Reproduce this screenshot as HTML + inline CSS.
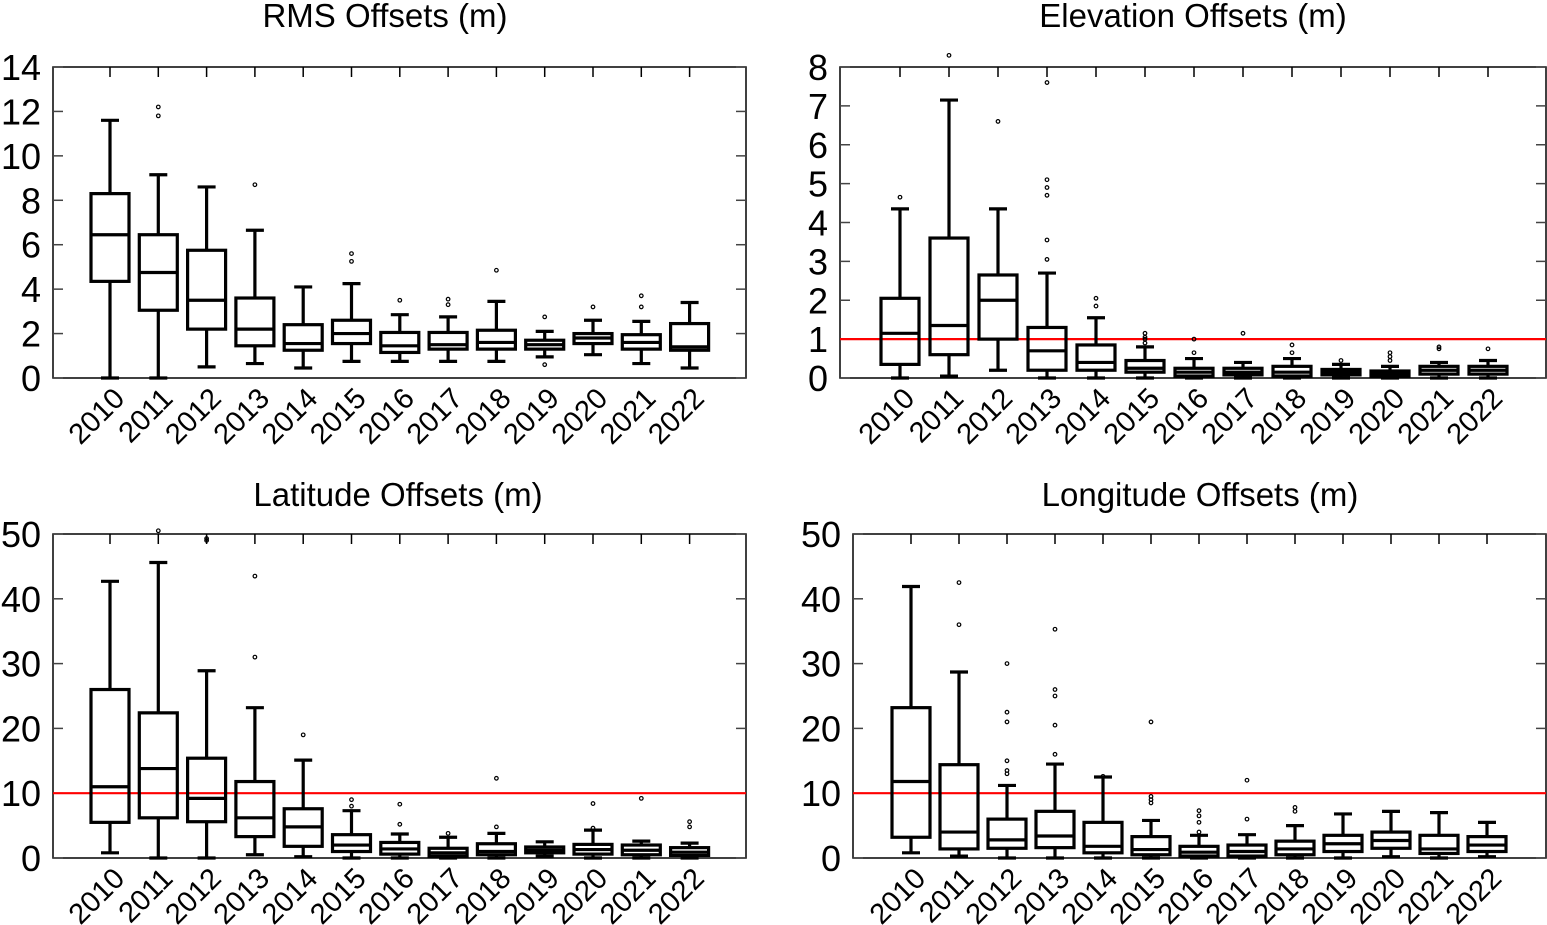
<!DOCTYPE html>
<html><head><meta charset="utf-8"><style>
body{margin:0;background:#fff;}
svg{display:block;font-family:"Liberation Sans",Arial,sans-serif;}
</style></head><body>
<svg id="s" width="1547" height="925" viewBox="0 0 1547 925" xmlns="http://www.w3.org/2000/svg"></svg>
<script>
const panels=[
{title:"RMS Offsets (m)",L:53,R:746,T:67,B:378,max:14,step:2,x0:110,dx:48.3,tx:385,ty:27,red:null,
data:[[4.35,6.45,8.3,0,11.6,[]],[3.05,4.75,6.45,0,9.15,[11.8,12.2]],[2.2,3.5,5.75,0.5,8.6,[]],[1.45,2.2,3.6,0.65,6.65,[8.7]],[1.25,1.55,2.4,0.45,4.1,[]],[1.55,2.0,2.6,0.75,4.25,[5.25,5.6]],[1.15,1.45,2.05,0.75,2.85,[3.5]],[1.3,1.5,2.05,0.75,2.75,[3.3,3.55]],[1.3,1.6,2.15,0.75,3.45,[4.85]],[1.3,1.5,1.7,0.95,2.1,[0.6,2.75]],[1.55,1.8,2.0,1.05,2.6,[3.2]],[1.3,1.6,1.95,0.65,2.55,[3.2,3.7]],[1.25,1.4,2.45,0.45,3.4,[]]]},
{title:"Elevation Offsets (m)",L:840,R:1546,T:67,B:378,max:8,step:1,x0:900,dx:49,tx:1193,ty:27,red:1,
data:[[0.35,1.15,2.05,0,4.35,[4.65]],[0.6,1.35,3.6,0.05,7.15,[8.3]],[1.0,2.0,2.65,0.2,4.35,[6.6]],[0.2,0.7,1.3,0,2.7,[3.05,3.55,4.7,4.9,5.1,7.6]],[0.2,0.4,0.85,0,1.55,[1.85,2.05]],[0.15,0.25,0.45,0,0.8,[0.9,1.0,1.05,1.15]],[0.05,0.15,0.25,0,0.5,[0.65,1.0]],[0.08,0.15,0.25,0,0.4,[1.15]],[0.05,0.15,0.3,0,0.5,[0.65,0.85]],[0.08,0.15,0.22,0,0.35,[0.45]],[0.03,0.1,0.18,0,0.3,[0.45,0.55,0.65]],[0.1,0.2,0.3,0,0.4,[0.75,0.8]],[0.1,0.2,0.3,0,0.45,[0.75]]]},
{title:"Latitude Offsets (m)",L:53,R:746,T:534,B:858,max:50,step:10,x0:110,dx:48.3,tx:398,ty:506,red:10,
data:[[5.5,11,26,0.8,42.7,[]],[6.2,13.8,22.4,0,45.6,[50.5]],[5.6,9.2,15.4,0,28.9,[49,49.3]],[3.3,6.2,11.8,0.5,23.2,[31,43.5]],[1.8,4.8,7.6,0.2,15.1,[19]],[1.0,2.0,3.6,0,7.3,[8,9]],[0.6,1.4,2.4,0,3.7,[5.2,8.3]],[0.3,0.8,1.5,0,3.2,[3.8]],[0.5,1.0,2.2,0,3.8,[4.8,12.3]],[0.8,1.2,1.7,0.3,2.5,[]],[0.6,1.3,2.1,0,4.3,[4.6,8.4]],[0.5,1.2,2.0,0,2.6,[9.2]],[0.4,0.9,1.6,0,2.3,[4.8,5.6]]]},
{title:"Longitude Offsets (m)",L:853,R:1546,T:534,B:858,max:50,step:10,x0:911,dx:48,tx:1200,ty:506,red:10,
data:[[3.2,11.8,23.2,0.8,41.9,[]],[1.4,4,14.4,0.3,28.7,[36,42.5]],[1.5,2.8,6.0,0,11.2,[13,13.5,15,21,22.5,30]],[1.6,3.4,7.2,0,14.5,[16,20.5,25,26,35.3]],[0.8,1.8,5.5,0,12.5,[12.6]],[0.5,1.3,3.3,0,5.8,[8.5,9,9.5,21]],[0.3,0.9,1.8,0,3.5,[4,5.5,6.5,7.3]],[0.3,1.0,2.0,0,3.6,[6,12]],[0.5,1.4,2.6,0,5.0,[7.2,7.8]],[1.0,2.2,3.5,0,6.8,[]],[1.5,2.7,4.0,0.2,7.2,[]],[0.7,1.4,3.5,0,7.0,[]],[1.0,2.0,3.3,0.2,5.5,[]]]}
];
let h="";
for(const p of panels){
 const Y=v=>p.B-(v/p.max)*(p.B-p.T);
 h+=`<text x="${p.tx}" y="${p.ty}" font-size="33" text-anchor="middle">${p.title}</text>`;
 h+=`<rect x="${p.L}" y="${p.T}" width="${p.R-p.L}" height="${p.B-p.T}" fill="none" stroke="#000" stroke-width="1.5"/>`;
 for(let v=0;v<=p.max+1e-9;v+=p.step){const y=Y(v);
  h+=`<line x1="${p.L}" x2="${p.L+10}" y1="${y}" y2="${y}" stroke="#444" stroke-width="1.5"/>`;
  h+=`<line x1="${p.R-10}" x2="${p.R}" y1="${y}" y2="${y}" stroke="#444" stroke-width="1.5"/>`;
  h+=`<text x="${p.L-12}" y="${y+13}" font-size="36" text-anchor="end">${v}</text>`;}
 if(p.red!==null){h+=`<line x1="${p.L}" x2="${p.R}" y1="${Y(p.red)}" y2="${Y(p.red)}" stroke="#f00" stroke-width="2.2"/>`;}
 p.data.forEach((d,i)=>{const x=p.x0+i*p.dx;const [q1,m,q3,lo,hi,out]=d;
  h+=`<line x1="${x}" x2="${x}" y1="${p.T}" y2="${p.T+10}" stroke="#000" stroke-width="1.5"/>`;
  h+=`<line x1="${x}" x2="${x}" y1="${Y(hi)}" y2="${Y(q3)}" stroke="#000" stroke-width="3.2"/>`;
  h+=`<line x1="${x}" x2="${x}" y1="${Y(q1)}" y2="${Y(lo)}" stroke="#000" stroke-width="3.2"/>`;
  h+=`<line x1="${x-9}" x2="${x+9}" y1="${Y(hi)}" y2="${Y(hi)}" stroke="#000" stroke-width="3.2"/>`;
  h+=`<line x1="${x-9}" x2="${x+9}" y1="${Y(lo)}" y2="${Y(lo)}" stroke="#000" stroke-width="3.2"/>`;
  h+=`<rect x="${x-19}" y="${Y(q3)}" width="38" height="${Math.max(Y(q1)-Y(q3),1)}" fill="none" stroke="#000" stroke-width="3.2"/>`;
  h+=`<line x1="${x-19}" x2="${x+19}" y1="${Y(m)}" y2="${Y(m)}" stroke="#000" stroke-width="3.2"/>`;
  for(const o of out)h+=`<circle cx="${x}" cy="${Y(o)}" r="1.8" fill="none" stroke="#000" stroke-width="1.2"/>`;
  h+=`<text transform="translate(${x+2},${p.B+8}) rotate(-45)" font-size="29" text-anchor="end" dominant-baseline="hanging">${2010+i}</text>`;
 });
}
document.getElementById("s").innerHTML=h;
</script>
</body></html>
